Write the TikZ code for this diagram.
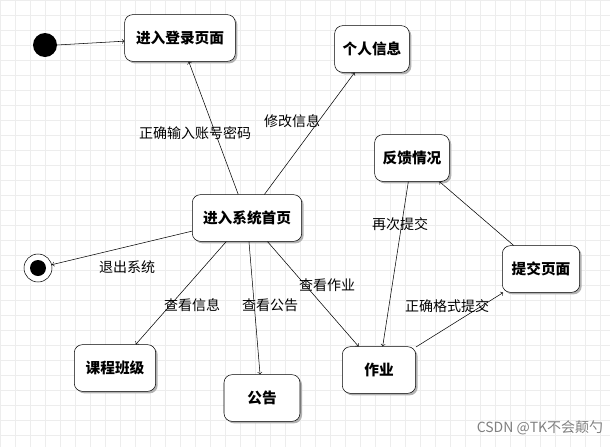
\documentclass[tikz,border=0pt]{standalone}
\usepackage{fontspec}
\setmainfont{Noto Sans CJK SC}
\usetikzlibrary{shadows}
\tikzset{
	state/.style={draw, rounded corners=6pt, fill=white, font=\bfseries\fontsize{11}{13}\selectfont,
		minimum height=35pt, inner sep=3pt, drop shadow={shadow xshift=1.5pt, shadow yshift=-1.5pt, fill=gray!60, opacity=1}},
	trans/.style={-to, thin},
	lbl/.style={font=\fontsize{10.5}{12}\selectfont, inner sep=1pt}
}
\begin{document}
\begin{tikzpicture}[x=0.75pt, y=-0.75pt]
	\useasboundingbox (0,0) rectangle (610,447);
	%背景网格
	\draw [black!7, step=11.25pt] (0,0) grid (610,447);
	%起点与终点
	\fill (45,45) circle (12) coordinate (start);
	\node (stop) at (38,268) [circle, draw, minimum size=21pt, fill=white] {};
	\fill (38,268) circle (8);
	%状态
	\node (login) at (180,38) [state, minimum width=83pt] {进入登录页面};
	\node (info) at (372,49) [state, minimum width=56pt] {个人信息};
	\node (feed) at (412,158) [state, minimum width=56pt] {反馈情况};
	\node (home) at (247,218) [state, minimum width=82pt] {进入系统首页};
	\node (submit) at (541,269) [state, minimum width=58pt] {提交页面};
	\node (class) at (115,368) [state, minimum width=61pt] {课程班级};
	\node (notice) at (262,398) [state, minimum width=57pt] {公告};
	\node (work) at (379,370) [state, minimum width=55pt] {作业};
	%转移
	\draw [trans] (57,45) -- (login);
	\draw [trans] (home) -- (login);
	\node [lbl] at (195,133) {正确输入账号密码};
	\draw [trans] (home) -- (info);
	\node [lbl] at (292,121) {修改信息};
	\draw [trans] (home) -- (stop);
	\node [lbl] at (127,267) {退出系统};
	\draw [trans] (home) -- (class);
	\node [lbl] at (192,305) {查看信息};
	\draw [trans] (home) -- (notice);
	\node [lbl] at (270,305) {查看公告};
	\draw [trans] (home) -- (work);
	\node [lbl] at (327,285) {查看作业};
	\draw [trans] (work) -- (submit);
	\node [lbl] at (447,306) {正确格式提交};
	\draw [trans] (submit) -- (feed);
	\draw [trans] (feed) -- (work);
	\node [lbl] at (400,224) {再次提交};
	%水印
	\node at (540,428) [font=\fontsize{10.5}{12}\selectfont, text=gray] {CSDN @TK不会颠勺};
\end{tikzpicture}
\end{document}
